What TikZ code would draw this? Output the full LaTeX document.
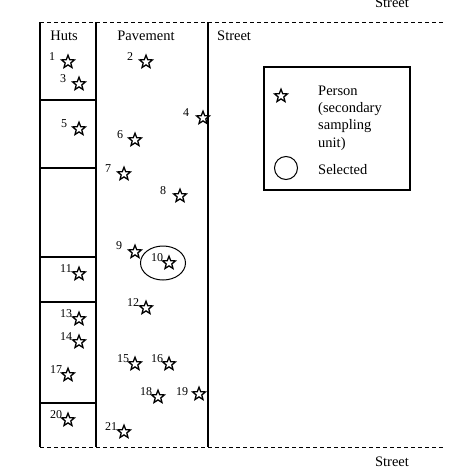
\documentclass[tikz,border=0pt]{standalone}
\usepackage{fontspec}
\setmainfont{Liberation Serif}
\usetikzlibrary{shapes.geometric}
\begin{document}
\begin{tikzpicture}[x=1pt,y=-1pt,
  wall/.style={line width=1.1pt},
  streetline/.style={line width=0.9pt,dash pattern=on 4pt off 3pt},
  pstar/.style={star,star points=5,star point ratio=2.3,draw,line width=1.3pt,minimum size=13.5pt,inner sep=0pt},
  num/.style={font=\fontsize{12}{14}\selectfont,inner sep=0pt},
  lbl/.style={font=\fontsize{14.5}{17.3}\selectfont,inner sep=0pt}]
\useasboundingbox (0,0) rectangle (474,474);
% streets
\coordinate (tl) at (40,22); \coordinate (tr) at (443,22);
\coordinate (bl) at (40,447); \coordinate (br) at (443,447);
\draw[streetline] (tl) -- (tr);
\draw[streetline] (bl) -- (br);
% walls
\draw[wall] (40,22) -- (40,447);
\draw[wall] (96,22) -- (96,447);
\draw[wall] (208,22) -- (208,447);
\foreach \y in {100,168,257,302,403} \draw[wall] (40,\y) -- (96,\y);
% headings
\node[lbl] (huts) at (64,36) {Huts};
\node[lbl] (pave) at (146,36) {Pavement};
\node[lbl,anchor=west] (street1) at (217,36) {Street};
\node[lbl] (street2) at (392,3) {Street};
\node[lbl] (street3) at (392,462) {Street};
% persons
\foreach \n/\sx/\sy/\lx/\ly in {
 1/68/62/52/57, 3/79/84/63/79, 2/146/62/130/57, 5/79/129/64/124,
 4/203/118/186/113, 6/135/140/120/135, 7/124/174/108/169, 8/180/196/163/191,
 9/135/252/119/246, 10/169/263/157/258, 11/79/274/66/269, 12/146/308/133/303,
 13/79/319/66/314, 14/79/342/66/337, 15/135/364/123/359, 16/169/364/157/359,
 17/68/375/56/370, 18/158/397/146/392, 19/199/394/182/392, 20/68/420/56/415,
 21/124/432/111/427}{
  \node[pstar] (p\n) at (\sx,\sy) {};
  \node[num] (n\n) at (\lx,\ly) {\n};
}
% selected
\node[draw,ellipse,line width=1pt,minimum width=45pt,minimum height=34pt,inner sep=0pt] (sel) at (163,263) {};
% legend
\node[draw,line width=1.1pt,minimum width=146pt,minimum height=123pt,inner sep=0pt] (legend) at (337,128.5) {};
\node[pstar] (lstar) at (281,96) {};
\node[lbl,anchor=west,align=left] (ltext) at (318,118) {Person\\(secondary\\sampling\\unit)};
\node[draw,circle,line width=1pt,minimum size=23pt,inner sep=0pt] (lcirc) at (286,168) {};
\node[lbl,anchor=west] (lsel) at (318,170) {Selected};
\end{tikzpicture}
\end{document}
